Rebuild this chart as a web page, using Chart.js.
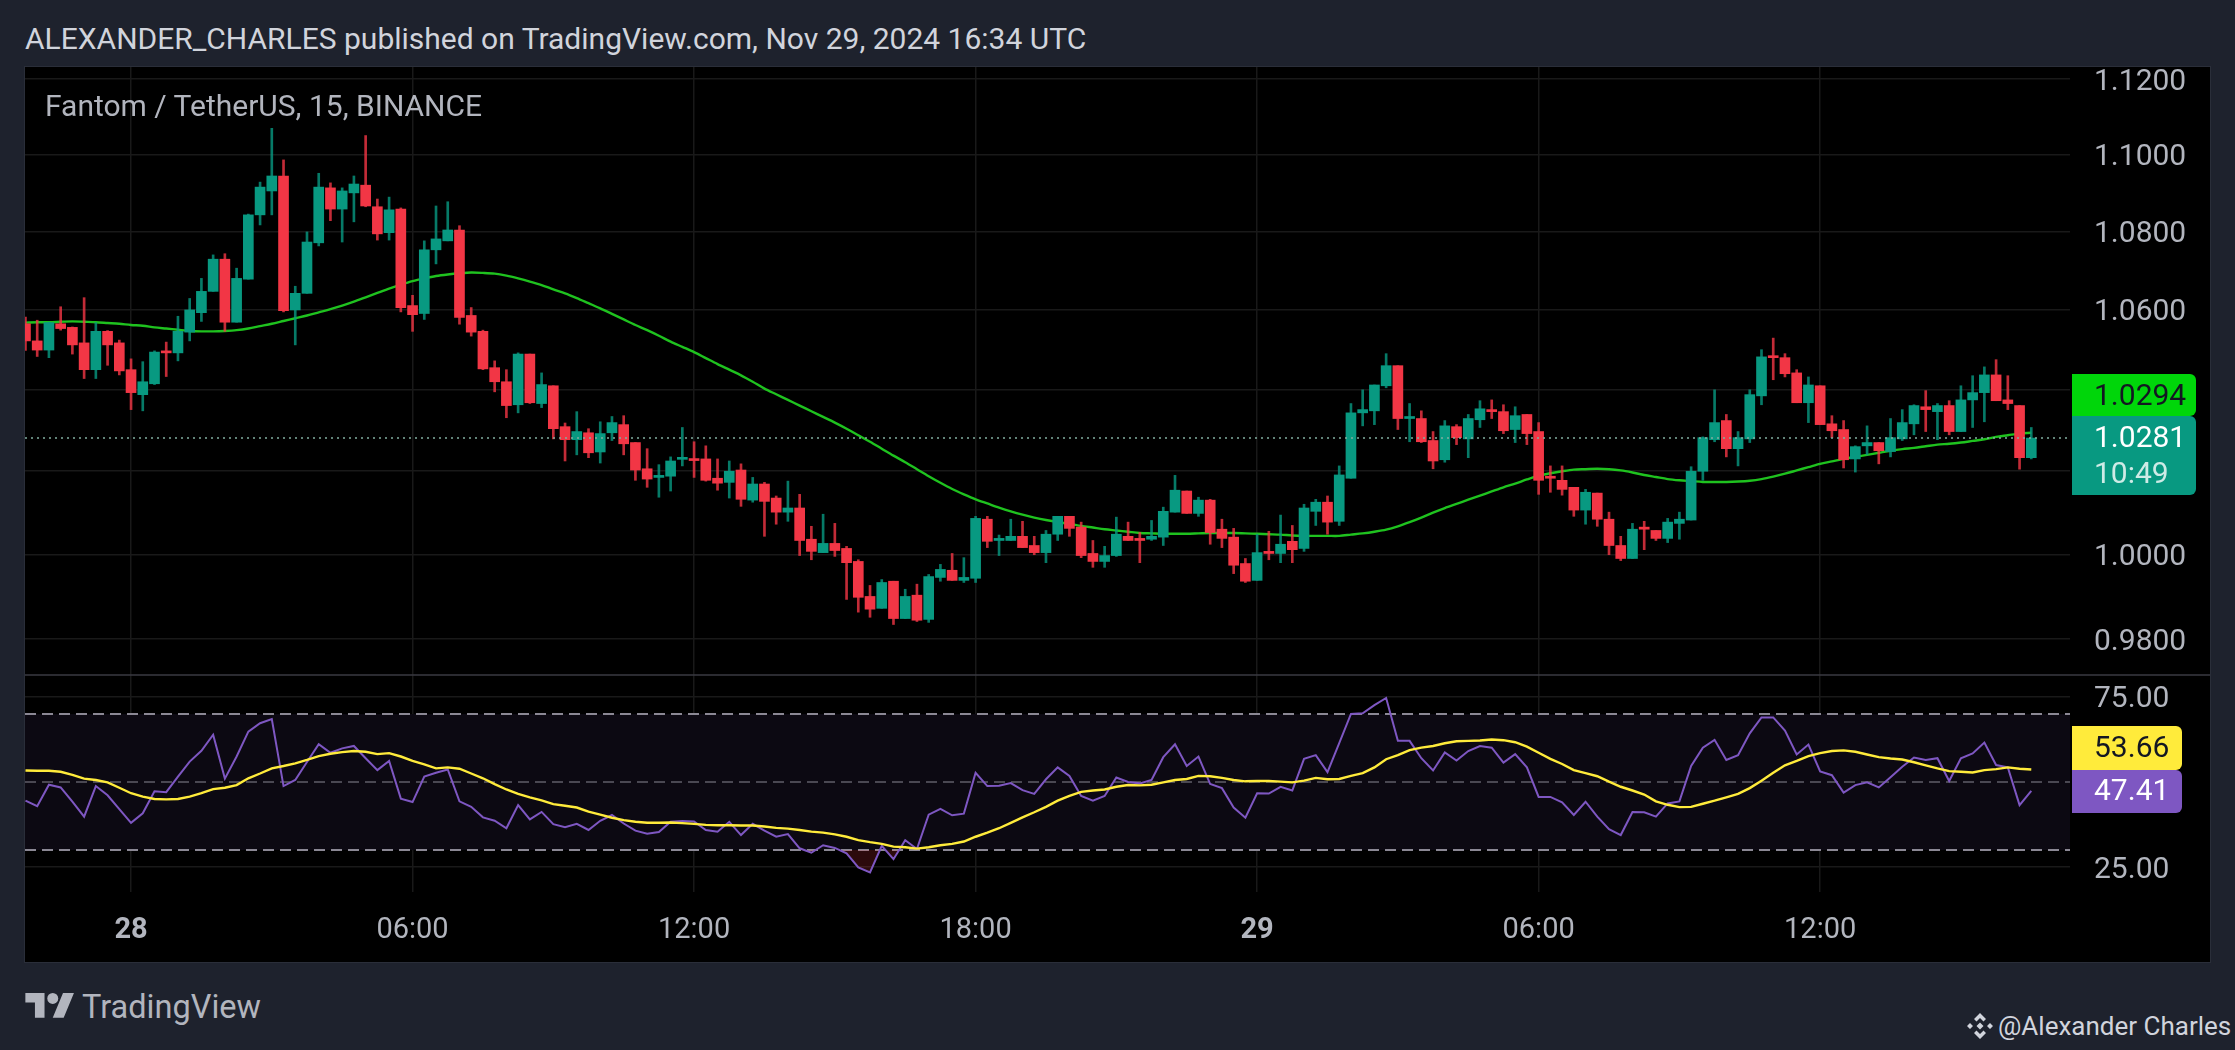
<!DOCTYPE html>
<html>
<head>
<meta charset="utf-8">
<title>Fantom / TetherUS</title>
<script src="https://cdn.jsdelivr.net/npm/chart.js@4"></script>
<style>
  html, body { margin: 0; padding: 0; background: #1e222d; width: 2235px; height: 1050px; overflow: hidden; font-family: Roboto, sans-serif; }
  #myChart { position: absolute; left: 25px; top: 67px; background: #000; outline: 1px solid #2a2e39; }
  .txt { position: absolute; white-space: nowrap; }
  #published { left: 25px; top: 21px; font-size: 30px; color: #d1d4dc; }
  #legend { left: 45px; top: 88px; font-size: 30px; color: #b2b5be; }
  #brand { left: 82px; top: 988px; font-size: 32.5px; color: #b2b5be; }
  #author { left: 1998px; top: 1011px; font-size: 26px; color: #d1d4dc; }
  svg { position: absolute; }
</style>
</head>
<body>
<div class="txt" id="published">ALEXANDER_CHARLES published on TradingView.com, Nov 29, 2024 16:34 UTC</div>
<canvas id="myChart" width="2185" height="895"></canvas>
<div class="txt" id="legend">Fantom / TetherUS, 15, BINANCE</div>
<svg style="left:25px;top:993px" width="50" height="26" viewBox="0 0 36 19" fill="#b2b5be"><path d="M14 18H7V7H0V0h14v18zM28 18h-8L27.5 0h8L28 18z"/><circle cx="20" cy="4" r="4"/></svg>
<div class="txt" id="brand">TradingView</div>
<svg style="left:1966px;top:1012px" width="28" height="28" viewBox="0 0 28 28" fill="#d1d4dc"><path d="M14 1l6 6-2.5 2.5L14 6 10.500 9.500 8 7zM14 27l6-6-2.500-2.500L14 22l-3.500-3.500L8 21zM14 10.500l3.500 3.500-3.500 3.500-3.500-3.500zM4 11l3 3-3 3-3-3zM24 11l3 3-3 3-3-3z"/></svg>
<div class="txt" id="author">@Alexander Charles</div>
<script>
// 15 minute bars, counted from Nov 28 00:00, first visible bar is -9
const firstBar = -9;

const opens = [
  1.0565, 1.0522, 1.0499, 1.0565, 1.0556, 1.0517, 1.0450, 1.0546, 1.0517,
  1.0450, 1.0388, 1.0415, 1.0497, 1.0492, 1.0544, 1.0593, 1.0647, 1.0729, 1.0569,
  1.0678, 1.0843, 1.0905, 1.0944, 1.0600, 1.0642, 1.0771, 1.0913, 1.0858, 1.0900,
  1.0920, 1.0864, 1.0797, 1.0858, 1.0611, 1.0591, 1.0753, 1.0776, 1.0804, 1.0586,
  1.0546, 1.0455, 1.0420, 1.0363, 1.0489, 1.0366, 1.0410, 1.0309, 1.0277, 1.0294,
  1.0247, 1.0294, 1.0314, 1.0270, 1.0206, 1.0185, 1.0188, 1.0229, 1.0230, 1.0230,
  1.0183, 1.0173, 1.0203, 1.0130, 1.0169, 1.0135, 1.0101, 1.0111, 1.0036, 1.0004,
  1.0026, 1.0014, 0.9983, 0.9900, 0.9872, 0.9936, 0.9848, 0.9903, 0.9846, 0.9945,
  0.9962, 0.9938, 0.9943, 1.0084, 1.0033, 1.0033, 1.0043, 1.0021, 1.0004, 1.0048,
  1.0091, 1.0065, 1.0002, 0.9983, 0.9997, 1.0043, 1.0038, 1.0036, 1.0041, 1.0101,
  1.0152, 1.0098, 1.0130, 1.0060, 1.0041, 0.9978, 0.9938, 1.0007, 1.0002, 1.0031,
  1.0014, 1.0103, 1.0125, 1.0079, 1.0183, 1.0343, 1.0348, 1.0410, 1.0460, 1.0329,
  1.0329, 1.0275, 1.0228, 1.0309, 1.0279, 1.0326, 1.0351, 1.0346, 1.0302, 1.0339,
  1.0297, 1.0185, 1.0178, 1.0161, 1.0106, 1.0147, 1.0084, 1.0021, 0.9990, 1.0065,
  1.0057, 1.0038, 1.0074, 1.0082, 1.0200, 1.0277, 1.0324, 1.0255, 1.0279, 1.0385,
  1.0485, 1.0480, 1.0442, 1.0368, 1.0410, 1.0316, 1.0302, 1.0230, 1.0262, 1.0270,
  1.0248, 1.0279, 1.0316, 1.0358, 1.0346, 1.0361, 1.0297, 1.0375, 1.0393, 1.0437,
  1.0375, 1.0361, 1.0233,
];

const closes = [
  1.0522, 1.0499, 1.0568, 1.0553, 1.0512, 1.0450, 1.0546, 1.0512, 1.0447,
  1.0393, 1.0420, 1.0494, 1.0492, 1.0546, 1.0600, 1.0647, 1.0729, 1.0569, 1.0680,
  1.0843, 1.0915, 1.0944, 1.0598, 1.0642, 1.0773, 1.0915, 1.0858, 1.0905, 1.0923,
  1.0866, 1.0794, 1.0856, 1.0606, 1.0588, 1.0753, 1.0781, 1.0804, 1.0581, 1.0544,
  1.0452, 1.0420, 1.0361, 1.0489, 1.0368, 1.0413, 1.0304, 1.0277, 1.0297, 1.0245,
  1.0292, 1.0319, 1.0267, 1.0203, 1.0181, 1.0190, 1.0225, 1.0233, 1.0226, 1.0178,
  1.0171, 1.0200, 1.0132, 1.0169, 1.0127, 1.0101, 1.0111, 1.0033, 1.0007, 1.0026,
  1.0009, 0.9980, 0.9898, 0.9870, 0.9933, 0.9848, 0.9900, 0.9844, 0.9947, 0.9964,
  0.9938, 0.9945, 1.0086, 1.0031, 1.0038, 1.0043, 1.0016, 1.0004, 1.0048, 1.0091,
  1.0062, 0.9997, 0.9983, 0.9997, 1.0048, 1.0033, 1.0033, 1.0043, 1.0103, 1.0154,
  1.0098, 1.0130, 1.0052, 1.0038, 0.9974, 0.9936, 1.0004, 1.0002, 1.0024, 1.0011,
  1.0111, 1.0125, 1.0077, 1.0191, 1.0343, 1.0351, 1.0412, 1.0460, 1.0329, 1.0334,
  1.0272, 1.0225, 1.0311, 1.0282, 1.0329, 1.0353, 1.0346, 1.0299, 1.0336, 1.0292,
  1.0178, 1.0183, 1.0156, 1.0106, 1.0149, 1.0084, 1.0021, 0.9990, 1.0060, 1.0060,
  1.0038, 1.0077, 1.0084, 1.0200, 1.0282, 1.0319, 1.0255, 1.0282, 1.0388, 1.0482,
  1.0480, 1.0440, 1.0368, 1.0412, 1.0314, 1.0299, 1.0228, 1.0260, 1.0270, 1.0250,
  1.0282, 1.0319, 1.0361, 1.0351, 1.0361, 1.0297, 1.0375, 1.0393, 1.0437, 1.0373,
  1.0366, 1.0233, 1.0281,
];

const highs = [
  1.0582, 1.0574, 1.0569, 1.0608, 1.0557, 1.0631, 1.0568, 1.0548, 1.0524,
  1.0477, 1.0470, 1.0497, 1.0519, 1.0584, 1.0629, 1.0680, 1.0740, 1.0743, 1.0706,
  1.0845, 1.0928, 1.1069, 1.0986, 1.0660, 1.0799, 1.0951, 1.0926, 1.0913, 1.0944,
  1.1050, 1.0884, 1.0889, 1.0861, 1.0637, 1.0776, 1.0866, 1.0877, 1.0815, 1.0606,
  1.0549, 1.0472, 1.0450, 1.0492, 1.0489, 1.0442, 1.0410, 1.0318, 1.0346, 1.0304,
  1.0321, 1.0334, 1.0336, 1.0270, 1.0255, 1.0216, 1.0235, 1.0307, 1.0272, 1.0262,
  1.0230, 1.0225, 1.0218, 1.0185, 1.0173, 1.0140, 1.0176, 1.0144, 1.0067, 1.0096,
  1.0074, 1.0019, 0.9987, 0.9926, 0.9940, 0.9936, 0.9917, 0.9929, 0.9952, 0.9976,
  1.0002, 0.9992, 1.0091, 1.0091, 1.0046, 1.0084, 1.0079, 1.0043, 1.0057, 1.0091,
  1.0091, 1.0077, 1.0033, 1.0019, 1.0089, 1.0077, 1.0052, 1.0081, 1.0113, 1.0190,
  1.0152, 1.0137, 1.0132, 1.0084, 1.0062, 0.9990, 1.0048, 1.0055, 1.0094, 1.0069,
  1.0120, 1.0132, 1.0140, 1.0213, 1.0366, 1.0400, 1.0412, 1.0490, 1.0460, 1.0366,
  1.0348, 1.0297, 1.0324, 1.0314, 1.0339, 1.0373, 1.0375, 1.0363, 1.0358, 1.0339,
  1.0319, 1.0213, 1.0213, 1.0161, 1.0156, 1.0147, 1.0101, 1.0043, 1.0074, 1.0079,
  1.0057, 1.0086, 1.0101, 1.0211, 1.0284, 1.0400, 1.0339, 1.0297, 1.0400, 1.0500,
  1.0529, 1.0490, 1.0450, 1.0432, 1.0410, 1.0336, 1.0324, 1.0262, 1.0311, 1.0270,
  1.0329, 1.0351, 1.0363, 1.0398, 1.0366, 1.0373, 1.0410, 1.0435, 1.0457, 1.0475,
  1.0435, 1.0361, 1.0307,
];

const lows = [
  1.0498, 1.0483, 1.0480, 1.0549, 1.0489, 1.0428, 1.0428, 1.0461, 1.0437,
  1.0351, 1.0348, 1.0413, 1.0433, 1.0472, 1.0522, 1.0571, 1.0647, 1.0546, 1.0569,
  1.0678, 1.0817, 1.0843, 1.0595, 1.0512, 1.0642, 1.0763, 1.0828, 1.0773, 1.0825,
  1.0864, 1.0778, 1.0778, 1.0595, 1.0546, 1.0576, 1.0717, 1.0776, 1.0564, 1.0534,
  1.0450, 1.0395, 1.0331, 1.0343, 1.0366, 1.0356, 1.0279, 1.0225, 1.0240, 1.0233,
  1.0220, 1.0275, 1.0240, 1.0178, 1.0161, 1.0137, 1.0152, 1.0213, 1.0185, 1.0176,
  1.0154, 1.0135, 1.0115, 1.0125, 1.0043, 1.0072, 1.0079, 0.9997, 0.9987, 1.0004,
  0.9995, 0.9893, 0.9863, 0.9851, 0.9872, 0.9834, 0.9848, 0.9841, 0.9839, 0.9936,
  0.9938, 0.9933, 0.9933, 1.0016, 0.9997, 1.0033, 1.0016, 0.9999, 0.9980, 1.0033,
  1.0043, 0.9992, 0.9969, 0.9969, 0.9995, 1.0033, 0.9980, 1.0033, 1.0021, 1.0101,
  1.0098, 1.0091, 1.0024, 1.0016, 0.9954, 0.9933, 0.9938, 0.9987, 0.9980, 0.9980,
  1.0007, 1.0069, 1.0048, 1.0069, 1.0183, 1.0311, 1.0314, 1.0405, 1.0302, 1.0272,
  1.0270, 1.0206, 1.0222, 1.0265, 1.0233, 1.0307, 1.0329, 1.0292, 1.0270, 1.0265,
  1.0144, 1.0149, 1.0142, 1.0091, 1.0072, 1.0067, 0.9999, 0.9985, 0.9990, 1.0011,
  1.0033, 1.0028, 1.0036, 1.0082, 1.0178, 1.0272, 1.0235, 1.0213, 1.0270, 1.0363,
  1.0425, 1.0432, 1.0368, 1.0319, 1.0314, 1.0282, 1.0208, 1.0198, 1.0240, 1.0218,
  1.0235, 1.0275, 1.0289, 1.0297, 1.0277, 1.0289, 1.0297, 1.0307, 1.0321, 1.0373,
  1.0351, 1.0205, 1.0230,
];

// green moving average on the price pane
const maValues = [
  1.0568, 1.0569, 1.0569, 1.0570, 1.0571, 1.0570, 1.0569, 1.0567, 1.0565,
  1.0562, 1.0560, 1.0556, 1.0553, 1.0550, 1.0547, 1.0546, 1.0546, 1.0547, 1.0549,
  1.0553, 1.0559, 1.0565, 1.0572, 1.0579, 1.0586, 1.0594, 1.0602, 1.0611, 1.0621,
  1.0632, 1.0643, 1.0654, 1.0664, 1.0673, 1.0680, 1.0686, 1.0690, 1.0693, 1.0695,
  1.0694, 1.0692, 1.0687, 1.0680, 1.0672, 1.0663, 1.0652, 1.0642, 1.0630, 1.0617,
  1.0604, 1.0590, 1.0576, 1.0562, 1.0549, 1.0535, 1.0520, 1.0507, 1.0494, 1.0479,
  1.0464, 1.0450, 1.0436, 1.0420, 1.0403, 1.0389, 1.0375, 1.0361, 1.0347, 1.0333,
  1.0319, 1.0304, 1.0288, 1.0272, 1.0255, 1.0238, 1.0222, 1.0205, 1.0188, 1.0172,
  1.0157, 1.0144, 1.0132, 1.0122, 1.0112, 1.0103, 1.0095, 1.0088, 1.0082, 1.0077,
  1.0073, 1.0068, 1.0064, 1.0060, 1.0057, 1.0054, 1.0051, 1.0050, 1.0049, 1.0049,
  1.0049, 1.0050, 1.0051, 1.0051, 1.0051, 1.0050, 1.0049, 1.0048, 1.0047, 1.0045,
  1.0044, 1.0044, 1.0044, 1.0044, 1.0047, 1.0050, 1.0054, 1.0059, 1.0067, 1.0077,
  1.0088, 1.0100, 1.0111, 1.0121, 1.0131, 1.0141, 1.0151, 1.0161, 1.0170, 1.0180,
  1.0189, 1.0195, 1.0200, 1.0204, 1.0205, 1.0206, 1.0205, 1.0202, 1.0197, 1.0191,
  1.0186, 1.0181, 1.0178, 1.0176, 1.0174, 1.0174, 1.0174, 1.0175, 1.0177, 1.0181,
  1.0187, 1.0194, 1.0202, 1.0210, 1.0218, 1.0224, 1.0230, 1.0235, 1.0240, 1.0245,
  1.0250, 1.0254, 1.0257, 1.0261, 1.0265, 1.0267, 1.0270, 1.0274, 1.0278, 1.0284,
  1.0288, 1.0292, 1.0294,
];

const rsiValues = [
  44.5, 42.9, 49.2, 48.4, 44.2, 39.8, 48.8, 46.1, 42.0,
  38.0, 40.8, 47.3, 47.0, 51.6, 56.0, 59.2, 63.9, 51.0, 57.5,
  64.8, 67.3, 68.5, 48.8, 50.6, 55.9, 61.1, 58.6, 59.9, 60.6,
  57.0, 53.5, 56.2, 45.1, 44.1, 51.6, 52.7, 53.7, 44.3, 42.7,
  39.6, 38.6, 36.4, 43.2, 39.0, 41.2, 37.6, 36.7, 37.7, 35.9,
  38.6, 40.3, 37.8, 35.7, 34.8, 35.3, 38.3, 38.5, 38.4, 35.9,
  35.4, 38.3, 34.4, 37.7, 35.7, 33.9, 34.7, 30.5, 29.2, 31.4,
  30.6, 29.0, 24.9, 23.4, 31.2, 27.3, 32.9, 30.3, 40.4, 42.1,
  40.2, 40.7, 52.7, 48.8, 48.9, 49.7, 47.6, 46.5, 50.8, 54.3,
  51.8, 45.9, 44.5, 45.9, 51.3, 50.0, 49.6, 50.6, 57.3, 61.1,
  54.7, 57.5, 49.4, 48.2, 42.5, 39.5, 46.7, 46.6, 48.6, 47.5,
  56.8, 57.9, 52.9, 61.4, 70.0, 70.2, 72.6, 74.7, 62.1, 62.1,
  57.0, 53.4, 58.7, 56.3, 59.1, 60.6, 60.1, 55.7, 58.2, 54.3,
  45.6, 45.6, 44.0, 40.3, 44.2, 39.8, 36.1, 34.4, 41.2, 41.1,
  39.8, 43.7, 44.3, 54.7, 60.1, 62.4, 56.5, 57.9, 64.3, 69.0,
  69.0, 65.1, 58.1, 61.0, 53.1, 52.0, 46.9, 49.1, 49.9, 48.4,
  51.4, 54.5, 57.2, 56.5, 57.0, 50.3, 57.0, 58.4, 61.6, 55.0,
  54.3, 43.2, 47.41,
];

const rsiMaValues = [
  53.4, 53.3, 53.3, 53.0, 52.1, 51.0, 50.6, 49.9, 48.3,
  46.7, 45.7, 45.0, 44.9, 45.0, 45.7, 46.7, 47.9, 48.3, 49.1,
  51.1, 52.5, 54.0, 54.7, 55.5, 56.5, 57.6, 58.3, 58.8, 59.1,
  58.9, 58.2, 58.5, 57.5, 56.2, 55.2, 54.0, 54.3, 53.9, 52.5,
  51.1, 49.4, 47.8, 46.5, 45.5, 44.6, 43.5, 43.0, 42.5, 41.3,
  40.4, 39.5, 38.8, 38.3, 38.0, 38.0, 38.1, 37.9, 37.7, 37.4,
  37.3, 37.3, 37.2, 37.2, 36.9, 36.5, 36.3, 35.9, 35.4, 35.1,
  34.6, 33.9, 32.9, 32.3, 31.8, 31.0, 30.8, 30.4, 30.8, 31.4,
  31.8, 32.5, 33.9, 35.1, 36.4, 38.0, 39.6, 41.1, 42.7, 44.5,
  45.9, 47.1, 47.5, 47.8, 48.6, 49.1, 49.0, 49.2, 49.9, 50.6,
  50.9, 51.8, 51.7, 51.2, 50.6, 50.2, 50.3, 50.3, 50.1, 49.9,
  50.4, 51.2, 50.8, 50.9, 51.8, 52.6, 54.3, 56.7, 57.9, 59.4,
  60.1, 60.6, 61.4, 62.0, 62.1, 62.2, 62.5, 62.3, 61.7, 60.4,
  58.6, 56.8, 55.3, 53.5, 52.6, 51.7, 50.1, 48.6, 47.5, 46.3,
  44.3, 43.3, 42.6, 42.7, 43.6, 44.5, 45.5, 46.5, 48.2, 50.4,
  52.7, 54.9, 56.2, 57.6, 58.5, 59.1, 59.3, 58.9, 58.1, 57.3,
  56.9, 56.6, 55.8, 54.9, 54.0, 53.2, 53.0, 52.8, 53.5, 53.8,
  54.3, 53.9, 53.66,
];

const priceTicks = [0.98, 1.0, 1.02, 1.04, 1.06, 1.08, 1.10, 1.12];
const hiddenPriceLabels = [1.02, 1.04]; // these sit behind the value tags
const rsiTicks = [25, 75];
const rsiLevels = [70, 50, 30];
const timeTicks = [0, 24, 48, 72, 96, 120, 144];
const timeLabels = ["28", "06:00", "12:00", "18:00", "29", "06:00", "12:00"];
const dayTicks = [0, 96];

const lastPrice = 1.0281;
const maLast = "1.0294";
const countdown = "10:49";
const rsiMaLast = "53.66";
const rsiLast = "47.41";

const UP = "#089981";
const DOWN = "#f23645";
const GRID = "#191919";
const AXIS_TEXT = "#b2b5be";
const FONT = "Roboto, sans-serif";

const bars = opens.map((o, i) => firstBar + i);
const candleColor = opens.map((o, i) => (closes[i] >= o ? UP : DOWN));
const wickColor = opens.map((o, i) => (closes[i] >= o ? "rgba(8,153,129,0.8)" : "rgba(242,54,69,0.8)"));

const toPoints = (values) => values.map((v, i) => ({ x: bars[i], y: v }));

// the stacked axes must not reserve room for half a tick label
const noPadding = (scale) => {
    scale.paddingTop = 0;
    scale.paddingBottom = 0;
    scale.paddingLeft = 0;
    scale.paddingRight = 0;
};

// RSI band, dashed levels, pane divider and last price line
const paneLines = {
    id: "paneLines",
    beforeDatasetsDraw(chart) {
        const { ctx, chartArea: a, scales } = chart;
        const rsi = scales.rsi;
        ctx.save();
        ctx.fillStyle = "#0c0912";
        ctx.fillRect(a.left, rsi.getPixelForValue(70), a.right - a.left, rsi.getPixelForValue(30) - rsi.getPixelForValue(70));
        ctx.setLineDash([11, 6]);
        ctx.lineWidth = 2;
        rsiLevels.forEach((level) => {
            const y = Math.round(rsi.getPixelForValue(level));
            ctx.strokeStyle = level === 50 ? "#4a4852" : "#8b8894";
            ctx.beginPath();
            ctx.moveTo(a.left, y);
            ctx.lineTo(a.right, y);
            ctx.stroke();
        });
        ctx.setLineDash([]);
        ctx.strokeStyle = "#3a3a42";
        ctx.lineWidth = 1.5;
        ctx.beginPath();
        ctx.moveTo(a.left, scales.y.bottom);
        ctx.lineTo(chart.width, scales.y.bottom);
        ctx.stroke();
        ctx.restore();
    },
    afterDatasetsDraw(chart) {
        const { ctx, chartArea: a, scales } = chart;
        const y = Math.round(scales.y.getPixelForValue(lastPrice));
        ctx.save();
        ctx.setLineDash([2, 4]);
        ctx.lineWidth = 2;
        ctx.strokeStyle = "rgba(130,175,160,0.75)";
        ctx.beginPath();
        ctx.moveTo(a.left, y);
        ctx.lineTo(a.right, y);
        ctx.stroke();
        ctx.restore();
    },
};

// value tags on the right axis
const axisTags = {
    id: "axisTags",
    afterDraw(chart) {
        const { ctx, chartArea: a } = chart;
        const top = 67; // canvas offset, tags are placed in page pixels
        const tag = (color, y0, y1, w, lines) => {
            ctx.fillStyle = color;
            ctx.beginPath();
            ctx.roundRect(a.right + 2, y0 - top, w, y1 - y0, [0, 6, 6, 0]);
            ctx.fill();
            lines.forEach((l) => {
                ctx.fillStyle = l.color;
                ctx.fillText(l.text, a.right + 24, l.y - top);
            });
        };
        ctx.save();
        ctx.font = "30px " + FONT;
        ctx.textAlign = "left";
        ctx.textBaseline = "middle";
        tag("#00d60a", 374, 416, 124, [{ text: maLast, y: 397, color: "#131722" }]);
        tag(UP, 416, 495, 124, [
            { text: lastPrice.toFixed(4), y: 439, color: "#ffffff" },
            { text: countdown, y: 475, color: "rgba(255,255,255,0.8)" },
        ]);
        tag("#ffeb3b", 726, 770, 110, [{ text: rsiMaLast, y: 749, color: "#131722" }]);
        tag("#7e57c2", 770, 813, 110, [{ text: rsiLast, y: 792, color: "#ffffff" }]);
        ctx.restore();
    },
};

const ctx = document.getElementById("myChart");

new Chart(ctx, {
    data: {
        datasets: [
            {
                type: "bar",
                data: bars.map((b, i) => ({ x: b, y: [opens[i], closes[i]] })),
                backgroundColor: candleColor,
                barThickness: 10,
                minBarLength: 2,
                grouped: false,
                yAxisID: "y",
            },
            {
                type: "bar",
                data: bars.map((b, i) => ({ x: b, y: [lows[i], highs[i]] })),
                backgroundColor: wickColor,
                barThickness: 2,
                grouped: false,
                yAxisID: "y",
            },
            {
                type: "line",
                data: toPoints(maValues),
                borderColor: "#1fc21f",
                borderWidth: 2.4,
                pointRadius: 0,
                tension: 0.3,
                yAxisID: "y",
            },
            {
                type: "line",
                data: toPoints(rsiMaValues),
                borderColor: "#ffeb3b",
                borderWidth: 2.4,
                pointRadius: 0,
                yAxisID: "rsi",
            },
            {
                type: "line",
                data: toPoints(rsiValues),
                borderColor: "#7e57c2",
                borderWidth: 2,
                pointRadius: 0,
                fill: { target: { value: 30 }, above: "transparent", below: "rgba(242,54,69,0.18)" },
                yAxisID: "rsi",
            },
        ],
    },
    plugins: [paneLines, axisTags],
    options: {
        responsive: false,
        animation: false,
        layout: { padding: 0 },
        plugins: {
            legend: { display: false },
            title: { display: false },
            tooltip: { enabled: false },
        },
        scales: {
            x: {
                type: "linear",
                offset: false,
                bounds: "data",
                min: -9.04,
                max: 165.3,
                afterBuildTicks: (scale) => {
                    scale.ticks = timeTicks.map((v) => ({ value: v }));
                },
                afterFit: (scale) => {
                    scale.height = 70;
                    noPadding(scale);
                },
                grid: { color: GRID, lineWidth: 1.5, drawTicks: false, offset: false },
                border: { display: false },
                ticks: {
                    color: AXIS_TEXT,
                    padding: 21,
                    maxRotation: 0,
                    autoSkip: false,
                    font: (c) => ({
                        family: FONT,
                        size: 29,
                        weight: dayTicks.includes(c.tick && c.tick.value) ? "bold" : "normal",
                    }),
                    callback: (value) => timeLabels[timeTicks.indexOf(value)],
                },
            },
            y: {
                type: "logarithmic",
                position: "right",
                stack: "panes",
                stackWeight: 608,
                bounds: "data",
                min: 0.97163,
                max: 1.12321,
                afterBuildTicks: (scale) => {
                    scale.ticks = priceTicks.map((v) => ({ value: v }));
                },
                afterFit: (scale) => {
                    scale.width = 140;
                    noPadding(scale);
                },
                grid: { color: GRID, lineWidth: 1.5, drawTicks: false },
                border: { display: false },
                ticks: {
                    color: AXIS_TEXT,
                    padding: 24,
                    labelOffset: 3,
                    autoSkip: false,
                    font: { family: FONT, size: 30 },
                    callback: (value) => (hiddenPriceLabels.includes(value) ? "" : value.toFixed(4)),
                },
            },
            rsi: {
                type: "linear",
                position: "right",
                stack: "panes",
                stackWeight: 217,
                bounds: "data",
                min: 17.65,
                max: 81.47,
                afterBuildTicks: (scale) => {
                    scale.ticks = rsiTicks.map((v) => ({ value: v }));
                },
                afterFit: (scale) => {
                    scale.width = 140;
                    noPadding(scale);
                },
                grid: { color: GRID, lineWidth: 1.5, drawTicks: false },
                border: { display: false },
                ticks: {
                    color: AXIS_TEXT,
                    padding: 24,
                    labelOffset: 3,
                    autoSkip: false,
                    font: { family: FONT, size: 30 },
                    callback: (value) => value.toFixed(2),
                },
            },
        },
    },
});
</script>
</body>
</html>
